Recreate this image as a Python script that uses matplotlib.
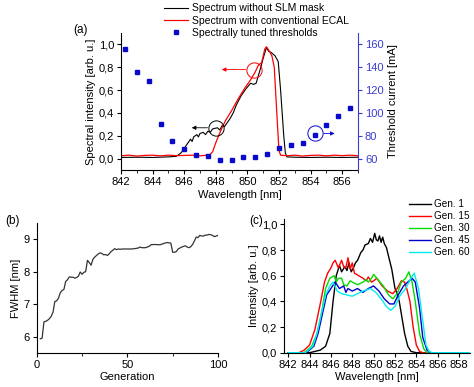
import numpy as np
import matplotlib
matplotlib.use('Agg')
from matplotlib import pyplot as plt
from matplotlib.ticker import FuncFormatter, MultipleLocator

plt.rcParams['font.family'] = ['Liberation Sans', 'DejaVu Sans']
plt.rcParams['font.size'] = 8

# (a) spectra
wl_free = [842.0, 843.0, 844.0, 845.0, 845.5, 845.8, 846.0, 846.2, 846.4, 846.5, 846.6, 846.8, 846.9, 847.0,
           847.2, 847.35, 847.5, 847.65, 847.8, 848.1, 848.25, 848.4, 848.55, 848.7, 848.9, 849.1, 849.3, 849.6, 849.9, 850.2,
           850.4, 850.55, 850.7, 850.85, 851.0, 851.2, 851.35, 851.5, 851.75, 851.95, 852.1,
           852.2, 852.3, 852.4, 852.5, 853.0, 854.0, 855.0, 856.0, 857.0]
int_free = [0.01, 0.012, 0.01, 0.015, 0.02, 0.05, 0.09, 0.13, 0.17, 0.15, 0.19, 0.21, 0.19, 0.22,
            0.23, 0.21, 0.24, 0.23, 0.26, 0.27, 0.25, 0.29, 0.28, 0.31, 0.35, 0.40, 0.47, 0.55, 0.61, 0.66,
            0.65, 0.66, 0.73, 0.80, 0.88, 0.97, 0.94, 0.93, 0.90, 0.85, 0.60,
            0.40, 0.20, 0.05, 0.015, 0.012, 0.01, 0.012, 0.01, 0.012]

wl_ecal = [842.0, 842.5, 843.0, 843.5, 844.0, 844.5, 845.0, 845.5, 846.0, 846.5, 847.0, 847.3,
           847.6, 847.8, 848.0, 848.3, 848.6, 849.0, 849.4, 849.8, 850.2, 850.5, 850.7, 850.9,
           851.0, 851.1, 851.2, 851.35, 851.55, 851.7, 851.8, 851.9, 852.0, 852.1, 852.5,
           853.0, 853.5, 854.0, 854.5, 855.0, 855.5, 856.0, 856.5, 857.0]
int_ecal = [0.025, 0.03, 0.022, 0.028, 0.03, 0.024, 0.03, 0.026, 0.028, 0.03, 0.024, 0.028,
            0.03, 0.06, 0.14, 0.24, 0.33, 0.42, 0.52, 0.61, 0.69, 0.76, 0.82, 0.84,
            0.90, 0.96, 0.98, 0.95, 0.90, 0.80, 0.55, 0.30, 0.07, 0.03, 0.025,
            0.03, 0.022, 0.028, 0.03, 0.024, 0.03, 0.026, 0.03, 0.025]

wl_thr = [842.25, 843.0, 843.75, 844.5, 845.25, 846.0, 846.75, 847.5, 848.25, 849.0,
          849.75, 850.5, 851.25, 852.0, 852.75, 853.5, 854.25, 855.0, 855.75, 856.5]
thr = [156, 136, 128, 90, 75, 68, 63, 62, 59, 59,
       61, 61, 64, 69, 72, 74, 81, 89, 97, 104]

# (b) FWHM vs generation
gen = [2, 3, 4, 5, 6, 7, 8, 9, 10, 11, 12, 13, 14, 15, 16, 17, 18, 19, 20, 21, 22, 23, 24,
       25, 26, 27, 28, 29, 30, 31, 32, 33, 34, 35, 36, 37, 38, 39, 40, 41, 42, 43, 44, 45,
       46, 47, 48, 50, 52, 54, 56, 57, 58, 60, 62, 63, 65, 68, 70, 72, 73, 74, 75, 76, 77,
       78, 80, 81, 82, 83, 84, 85, 86, 87, 88, 89, 90, 91, 92, 93, 94, 95, 96, 97, 98, 99, 100]
fwhm = [5.93, 5.95, 6.45, 6.47, 6.50, 6.55, 6.62, 6.75, 7.08, 7.10, 7.18, 7.35, 7.42, 7.45,
        7.70, 7.75, 7.84, 7.83, 7.83, 7.80, 7.82, 7.86, 7.99, 7.92, 7.98, 8.00, 8.35, 8.28,
        8.20, 8.38, 8.45, 8.50, 8.55, 8.58, 8.56, 8.52, 8.53, 8.50, 8.55, 8.62, 8.66, 8.71,
        8.68, 8.70, 8.69, 8.70, 8.70, 8.70, 8.70, 8.71, 8.73, 8.76, 8.74, 8.74, 8.78, 8.83,
        8.84, 8.83, 8.87, 8.90, 8.89, 8.88, 8.60, 8.60, 8.62, 8.70, 8.76, 8.78, 8.80, 8.76,
        8.74, 8.77, 8.84, 8.95, 9.07, 9.05, 9.12, 9.10, 9.10, 9.13, 9.13, 9.15, 9.14, 9.12,
        9.08, 9.10, 9.12]

# (c) spectra for several generations
wl_g1 = [842.0, 844.0, 844.5, 845.0, 845.5, 845.9, 846.2, 846.5, 846.8, 847.0, 847.3, 847.5, 847.7, 847.9, 848.1,
         848.3, 848.5, 848.8, 849.0, 849.2, 849.5, 849.7, 849.9, 850.1, 850.25, 850.4, 850.55, 850.7, 850.85, 851.0,
         851.2, 851.4, 851.7, 852.0, 852.2, 852.4, 852.6, 852.9, 853.2, 853.5, 854.0, 859.0]
int_g1 = [0.0, 0.0, 0.01, 0.02, 0.05, 0.15, 0.40, 0.60, 0.68, 0.63, 0.67, 0.64, 0.70, 0.63, 0.66,
          0.70, 0.72, 0.78, 0.80, 0.84, 0.85, 0.89, 0.86, 0.93, 0.88, 0.87, 0.91, 0.86, 0.90, 0.85,
          0.82, 0.75, 0.65, 0.50, 0.46, 0.40, 0.30, 0.15, 0.05, 0.01, 0.0, 0.0]

wl_g15 = [842.0, 843.0, 843.5, 844.0, 844.5, 845.0, 845.4, 845.7, 846.0, 846.2, 846.4, 846.7, 847.0, 847.2,
          847.4, 847.6, 847.8, 848.0, 848.2, 848.6, 849.0, 849.3, 849.5, 849.8, 850.0, 850.3, 850.8, 851.3, 851.8, 852.2,
          852.6, 852.9, 853.1, 853.4, 853.7, 854.0, 854.3, 854.6, 859.0]
int_g15 = [0.0, 0.0, 0.02, 0.06, 0.18, 0.38, 0.55, 0.62, 0.66, 0.70, 0.72, 0.66, 0.72, 0.67,
           0.66, 0.74, 0.65, 0.70, 0.62, 0.60, 0.58, 0.56, 0.59, 0.55, 0.56, 0.58, 0.52, 0.48, 0.46, 0.50,
           0.56, 0.55, 0.50, 0.40, 0.20, 0.06, 0.01, 0.0, 0.0]

wl_g30 = [842.0, 843.5, 844.2, 844.7, 845.1, 845.5, 845.9, 846.3, 846.5, 846.7, 847.0, 847.2, 847.5, 847.8, 848.0,
          848.5, 849.0, 849.3, 849.5, 849.8, 850.0, 850.4, 850.9, 851.4, 851.8, 852.2, 852.6, 853.0, 853.3,
          853.6, 853.9, 854.3, 854.7, 855.0, 859.0]
int_g30 = [0.0, 0.0, 0.05, 0.15, 0.30, 0.50, 0.58, 0.60, 0.55, 0.58, 0.58, 0.53, 0.52, 0.56, 0.55,
           0.53, 0.55, 0.57, 0.55, 0.58, 0.61, 0.57, 0.52, 0.45, 0.42, 0.46, 0.55, 0.58, 0.63,
           0.55, 0.40, 0.15, 0.03, 0.0, 0.0]

wl_g45 = [842.0, 843.7, 844.4, 844.8, 845.2, 845.6, 846.0, 846.4, 846.8, 847.2, 847.4, 847.6, 848.0,
          848.5, 849.0, 849.5, 850.0, 850.5, 851.0, 851.5, 851.9, 852.3, 852.8, 853.2, 853.6,
          853.9, 854.3, 854.6, 855.0, 855.3, 859.0]
int_g45 = [0.0, 0.0, 0.05, 0.15, 0.30, 0.45, 0.50, 0.55, 0.50, 0.52, 0.47, 0.50, 0.48,
           0.50, 0.47, 0.50, 0.52, 0.48, 0.42, 0.38, 0.38, 0.45, 0.52, 0.55, 0.58,
           0.55, 0.35, 0.12, 0.02, 0.0, 0.0]

wl_g60 = [842.0, 843.6, 844.3, 844.7, 845.1, 845.5, 845.9, 846.2, 846.6, 847.0, 847.5, 848.0,
          848.5, 849.0, 849.7, 850.2, 850.7, 851.2, 851.6, 852.0, 852.5, 853.0, 853.5, 853.8,
          854.2, 854.6, 854.9, 855.2, 855.5, 859.0]
int_g60 = [0.0, 0.0, 0.05, 0.15, 0.30, 0.45, 0.52, 0.55, 0.48, 0.46, 0.45, 0.44,
           0.46, 0.48, 0.50, 0.47, 0.42, 0.36, 0.33, 0.36, 0.45, 0.50, 0.58, 0.62,
           0.50, 0.25, 0.06, 0.01, 0.0, 0.0]

gen_labels = ['Gen. 1', 'Gen. 15', 'Gen. 30', 'Gen. 45', 'Gen. 60']
gen_colors = ['black', '#ff0000', '#00dd00', '#0000cc', '#00eeee']

comma = FuncFormatter(lambda v, p: ('%.1f' % v).replace('.', ','))
blue = '#3b3bd0'

fig = plt.figure(figsize=(4.74, 3.87), dpi=100)

# ---- panel (a)
ax = fig.add_axes([0.2553, 0.5607, 0.5, 0.354])
l1, = ax.plot(wl_free, int_free, color='black', lw=0.8)
l2, = ax.plot(wl_ecal, int_ecal, color='#ff0000', lw=0.9)
ax.set_xlim(842, 857)
ax.set_ylim(-0.1, 1.1)
ax.xaxis.set_major_locator(MultipleLocator(2))
ax.xaxis.set_minor_locator(MultipleLocator(1))
ax.yaxis.set_major_locator(MultipleLocator(0.2))
ax.yaxis.set_major_formatter(comma)
ax.spines['top'].set_visible(False)
ax.spines['right'].set_visible(False)
ax.set_xlabel('Wavelength [nm]', labelpad=2)
ax.set_ylabel('Spectral intensity [arb. u.]', labelpad=2)
ax.tick_params(length=3, pad=2)
ax.tick_params(which='minor', length=2)

ax2 = ax.twinx()
l3, = ax2.plot(wl_thr, thr, 's', color='#0a0acc', ms=3.5, ls='none')
ax2.set_ylim(50, 170)
ax2.yaxis.set_major_locator(MultipleLocator(20))
ax2.spines['top'].set_visible(False)
ax2.spines['left'].set_visible(False)
ax2.spines['bottom'].set_visible(False)
ax2.spines['right'].set_color(blue)
ax2.tick_params(axis='y', colors=blue, length=3, pad=2)
ax2.set_ylabel('Threshold current [mA]', color='black', labelpad=3)

# circles and arrows
ax.plot([848.0], [0.27], 'o', mfc='none', mec='black', ms=11, mew=0.7)
ax.annotate('', xy=(846.3, 0.27), xytext=(847.65, 0.27),
            arrowprops=dict(arrowstyle='-|>', color='black', lw=0.6, mutation_scale=6))
ax.plot([850.4], [0.78], 'o', mfc='none', mec='#ff0000', ms=11, mew=0.7)
ax.annotate('', xy=(848.2, 0.78), xytext=(850.05, 0.78),
            arrowprops=dict(arrowstyle='-|>', color='#ff0000', lw=0.6, mutation_scale=6))
ax2.plot([854.3], [82], 'o', mfc='none', mec='#0a0acc', ms=11, mew=0.7)
ax2.annotate('', xy=(855.7, 82), xytext=(854.65, 82),
             arrowprops=dict(arrowstyle='-|>', color='#0a0acc', lw=0.6, mutation_scale=6))

fig.legend([l1, l2, l3], ['Spectrum without SLM mask', 'Spectrum with conventional ECAL',
                          'Spectrally tuned thresholds'],
           loc='upper left', bbox_to_anchor=(0.33, 1.01), frameon=False, fontsize=7.5,
           handlelength=2.3, labelspacing=0.2, handletextpad=0.4, borderpad=0.2)
fig.text(0.155, 0.915, '(a)', fontsize=8.5)

# ---- panel (b)
bx = fig.add_axes([0.0774, 0.0886, 0.3825, 0.335])
bx.plot(gen, fwhm, color='#333333', lw=0.9)
bx.set_xlim(0, 100)
bx.set_ylim(5.5, 9.5)
bx.xaxis.set_major_locator(MultipleLocator(50))
bx.xaxis.set_minor_locator(MultipleLocator(25))
bx.yaxis.set_major_locator(MultipleLocator(1))
bx.spines['top'].set_visible(False)
bx.spines['right'].set_visible(False)
bx.set_xlabel('Generation', labelpad=2)
bx.set_ylabel('FWHM [nm]', labelpad=2)
bx.tick_params(length=3, pad=2)
bx.tick_params(which='minor', length=2)
fig.text(0.012, 0.42, '(b)', fontsize=8.5)

# ---- panel (c)
cx = fig.add_axes([0.599, 0.0886, 0.392, 0.345])
series = [(wl_g1, int_g1), (wl_g15, int_g15), (wl_g30, int_g30), (wl_g45, int_g45), (wl_g60, int_g60)]
for (w, s), lab, col in zip(series, gen_labels, gen_colors):
    cx.plot(w, s, color=col, lw=1.0, label=lab)
cx.set_xlim(841.6, 859)
cx.set_ylim(0, 1.04)
cx.xaxis.set_major_locator(MultipleLocator(2))
cx.yaxis.set_major_locator(MultipleLocator(0.2))
cx.yaxis.set_major_formatter(comma)
cx.spines['top'].set_visible(False)
cx.spines['right'].set_visible(False)
cx.set_xlabel('Wavelength [nm]', labelpad=2)
cx.set_ylabel('Intensity [arb. u.]', labelpad=2)
cx.tick_params(length=3, pad=2)
cx.legend(loc='upper left', bbox_to_anchor=(0.635, 1.2), frameon=False, fontsize=7.2,
          handlelength=2.2, labelspacing=0.2, handletextpad=0.3, borderpad=0.2)
fig.text(0.525, 0.42, '(c)', fontsize=8.5)

fig.savefig('out.png', dpi=100)
